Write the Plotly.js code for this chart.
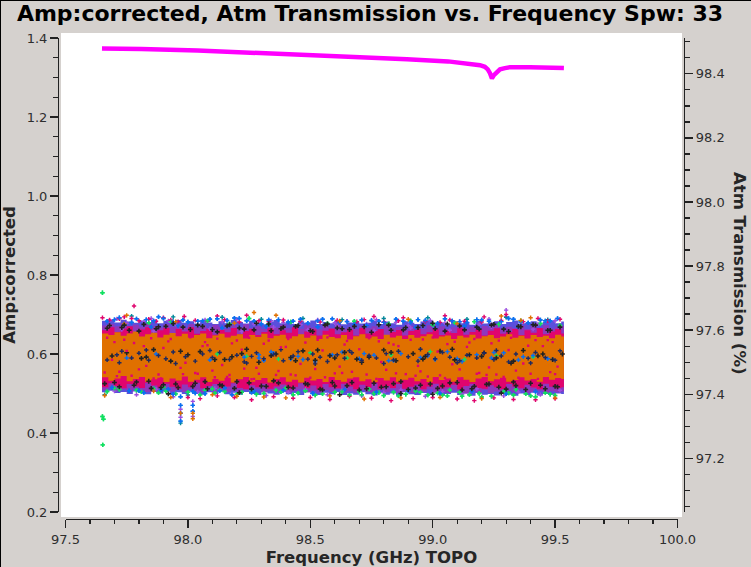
<!DOCTYPE html>
<html><head><meta charset="utf-8">
<script src="https://cdn.plot.ly/plotly-3.0.1.min.js"></script>
<style>html,body{margin:0;padding:0;background:#d5d1ce;overflow:hidden}</style>
</head><body><div id="chart" style="width:751px;height:567px"></div>
<script>
const titleText = "Amp:corrected, Atm Transmission vs. Frequency Spw: 33";
const xTitle = "Frequency (GHz) TOPO";
const yTitle = "Amp:corrected";
const y2Title = "Atm Transmission (%)";

// Atmospheric transmission curve
const atmFreq = [97.649,97.81,98.04,98.323,98.552,98.736,98.895,99.063,99.12,99.193,99.213,99.225,99.234,99.242,99.25,99.263,99.275,99.295,99.316,99.397,99.5,99.536];
const atmPct = [98.479,98.478,98.473,98.465,98.458,98.453,98.446,98.439,98.435,98.427,98.422,98.414,98.402,98.386,98.396,98.407,98.414,98.418,98.421,98.421,98.421,98.418];

// Envelopes of the dense amplitude cloud, sampled along frequency
const bandFreq = [97.649,97.675,97.7,97.725,97.75,97.775,97.8,97.825,97.85,97.875,97.9,97.925,97.95,97.975,98.0,98.025,98.05,98.075,98.1,98.125,98.15,98.175,98.2,98.225,98.25,98.275,98.3,98.325,98.35,98.375,98.4,98.425,98.45,98.475,98.5,98.525,98.55,98.575,98.6,98.625,98.65,98.675,98.7,98.725,98.75,98.775,98.8,98.825,98.85,98.875,98.9,98.925,98.95,98.975,99.0,99.025,99.05,99.075,99.1,99.125,99.15,99.175,99.2,99.225,99.25,99.275,99.3,99.325,99.35,99.375,99.4,99.425,99.45,99.475,99.5,99.525,99.536];
const fringeTop = [.684,.686,.680,.687,.682,.679,.685,.681,.687,.678,.684,.680,.686,.679,.683,.677,.685,.680,.676,.683,.678,.686,.681,.677,.684,.679,.675,.682,.686,.678,.681,.676,.683,.679,.685,.676,.681,.678,.684,.675,.680,.683,.677,.679,.685,.676,.682,.678,.674,.683,.679,.676,.682,.685,.677,.680,.675,.683,.678,.681,.674,.684,.677,.680,.683,.676,.681,.685,.677,.679,.683,.675,.681,.684,.678,.682,.680];
const purpleTop = [.672,.676,.670,.678,.668,.674,.669,.677,.671,.667,.675,.669,.673,.666,.676,.668,.672,.665,.674,.669,.664,.673,.668,.675,.666,.670,.663,.672,.667,.674,.665,.669,.664,.673,.667,.662,.671,.666,.674,.664,.668,.663,.672,.666,.670,.663,.673,.665,.669,.662,.671,.667,.664,.673,.666,.670,.663,.668,.672,.664,.669,.662,.671,.667,.674,.664,.669,.665,.672,.663,.670,.666,.673,.664,.669,.672,.670];
const pinkTop = [.660,.668,.656,.664,.670,.654,.662,.668,.652,.660,.666,.650,.663,.657,.668,.651,.658,.664,.649,.661,.655,.666,.650,.658,.663,.648,.656,.665,.650,.660,.654,.668,.649,.657,.662,.647,.659,.664,.650,.655,.661,.647,.666,.652,.658,.663,.648,.656,.661,.647,.658,.664,.650,.655,.662,.648,.660,.653,.665,.649,.656,.662,.647,.659,.665,.651,.656,.663,.648,.660,.654,.666,.650,.657,.663,.652,.658];
const orangeTop = [.652,.648,.655,.646,.652,.657,.644,.650,.654,.642,.649,.653,.645,.651,.641,.648,.652,.640,.647,.651,.642,.646,.650,.639,.648,.643,.651,.640,.646,.649,.639,.645,.650,.641,.647,.638,.649,.643,.640,.648,.637,.645,.650,.640,.644,.638,.649,.642,.646,.638,.648,.641,.645,.650,.639,.644,.647,.638,.646,.642,.649,.639,.645,.648,.640,.644,.650,.641,.646,.639,.648,.643,.646,.640,.649,.644,.646];
const orangeBot = [.536,.541,.532,.538,.544,.531,.537,.542,.530,.536,.540,.529,.538,.533,.543,.530,.535,.541,.529,.537,.532,.540,.528,.536,.542,.530,.534,.539,.528,.537,.541,.530,.535,.528,.540,.533,.537,.529,.542,.534,.530,.538,.541,.531,.536,.529,.539,.533,.541,.530,.535,.540,.531,.537,.529,.542,.534,.538,.530,.541,.535,.529,.538,.542,.531,.536,.540,.530,.534,.541,.533,.537,.530,.542,.535,.539,.537];
const pinkBot = [.522,.516,.526,.519,.513,.524,.518,.514,.527,.520,.515,.525,.517,.512,.523,.516,.527,.513,.519,.524,.512,.518,.526,.514,.511,.521,.516,.525,.512,.518,.523,.511,.517,.526,.513,.520,.511,.524,.516,.513,.525,.518,.511,.522,.515,.526,.512,.519,.514,.524,.512,.517,.523,.511,.518,.525,.513,.516,.522,.511,.519,.525,.514,.512,.521,.516,.511,.524,.518,.513,.522,.515,.511,.525,.517,.513,.516];
const purpleBot = [.512,.508,.514,.506,.510,.505,.512,.507,.504,.511,.506,.513,.505,.509,.504,.511,.506,.503,.510,.505,.512,.504,.508,.503,.510,.505,.512,.503,.507,.504,.510,.502,.506,.511,.503,.507,.502,.509,.504,.511,.503,.506,.502,.509,.504,.501,.508,.503,.510,.502,.505,.501,.508,.504,.510,.502,.506,.501,.508,.503,.500,.507,.503,.509,.501,.505,.500,.507,.503,.509,.501,.504,.507,.501,.506,.503,.505];
const fringeBot = [.506,.503,.507,.501,.504,.499,.505,.502,.498,.504,.500,.506,.498,.503,.499,.505,.500,.497,.503,.499,.505,.498,.502,.497,.504,.499,.496,.503,.500,.497,.504,.498,.501,.496,.503,.499,.496,.502,.498,.504,.496,.500,.497,.503,.498,.495,.502,.497,.500,.495,.503,.498,.496,.501,.497,.503,.495,.499,.502,.496,.500,.494,.501,.497,.499,.495,.502,.497,.494,.500,.496,.502,.495,.499,.497,.500,.499];

// Individually visible points, by colour
const greenX = [97.651,97.651,97.655,97.652,97.70,97.79,97.88,97.95,98.05,98.13,98.22,98.28,98.36,98.45,98.52,98.63,98.71,98.78,98.86,98.95,99.04,99.12,99.2,99.31,99.4,99.48,97.74,97.84,97.93,98.08,98.17,98.25,98.33,98.42,98.57,98.68,98.82,98.91,99.0,99.09,99.17,99.27,99.36,99.44,99.52,97.9,98.1,98.4,98.74,99.07,99.34,97.67,97.72,97.81,97.86,97.91,98.0,98.07,98.11,98.15,98.2,98.26,98.31,98.38,98.43,98.48,98.55,98.6,98.66,98.7,98.76,98.8,98.84,98.89,98.93,98.98,99.02,99.06,99.11,99.15,99.19,99.24,99.29,99.33,99.38,99.42,99.46,99.5,98.12,98.24,98.37,98.5,98.65,98.83,98.99,99.13,99.26,99.41];
const greenY = [.755,.442,.435,.370,.513,.508,.502,.499,.497,.509,.503,.498,.508,.501,.496,.505,.497,.502,.494,.503,.496,.493,.491,.501,.494,.498,.674,.679,.682,.684,.676,.690,.675,.681,.677,.683,.676,.684,.674,.679,.682,.675,.684,.677,.672,.516,.512,.514,.511,.509,.510,.505,.510,.504,.512,.506,.503,.508,.501,.505,.498,.506,.500,.504,.497,.507,.499,.503,.496,.505,.500,.495,.503,.498,.506,.496,.501,.494,.503,.497,.500,.493,.505,.496,.499,.492,.502,.495,.600,.594,.587,.603,.590,.598,.606,.586,.596,.592];
const blueX = [97.67,97.72,97.77,97.83,97.88,97.94,98.0,98.06,98.12,98.19,98.24,98.3,98.37,98.43,98.49,98.55,98.62,98.68,98.75,98.8,98.88,98.94,99.02,99.08,99.14,99.2,99.28,99.33,99.39,99.46,99.51,97.97,97.97,97.97,97.97,98.02,98.02,97.69,97.8,97.92,98.03,98.15,98.27,98.39,98.51,98.64,98.77,98.9,99.03,99.16,99.3,99.42,97.75,97.87,98.09,98.23,98.34,98.47,98.59,98.72,98.84,98.98,99.1,99.25,99.37,99.49,97.85,97.96,98.14,98.32,98.53,98.73,98.93,99.13,99.35,97.7,97.79,97.86,97.9,97.98,98.04,98.09,98.16,98.21,98.27,98.33,98.41,98.46,98.53,98.59,98.65,98.71,98.78,98.85,98.91,98.97,99.05,99.11,99.18,99.23,99.31,99.36,99.44,99.48,97.76,97.82,97.89,97.94,98.02,98.07,98.13,98.18,98.26,98.29,98.29,98.31,98.35,98.42,98.45,98.52,98.58,98.63,98.7,98.76,98.82,98.87,98.95,99.01,99.06,99.12,99.18,99.24,99.29,99.35,99.41,99.47];
const blueY = [.683,.692,.680,.687,.694,.682,.681,.684,.689,.691,.684,.676,.687,.683,.678,.688,.681,.675,.685,.680,.683,.687,.678,.684,.680,.686,.682,.688,.679,.684,.690,.492,.47,.45,.43,.47,.455,.515,.507,.511,.501,.514,.505,.508,.500,.510,.503,.507,.500,.506,.499,.505,.590,.600,.585,.592,.605,.586,.598,.601,.583,.595,.588,.604,.593,.586,.668,.672,.666,.670,.669,.673,.667,.671,.668,.687,.689,.684,.690,.686,.683,.688,.685,.690,.683,.686,.681,.688,.684,.689,.682,.686,.683,.688,.681,.685,.689,.682,.687,.683,.690,.681,.686,.684,.507,.502,.509,.498,.505,.500,.507,.497,.503,.598,.590,.583,.602,.587,.594,.580,.596,.605,.588,.597,.583,.601,.591,.586,.606,.581,.598,.590,.603,.585,.596,.588];
const blackX = [97.68,97.73,97.76,97.82,97.87,97.91,97.98,98.04,98.1,98.16,98.21,98.27,98.33,98.38,98.44,98.5,98.56,98.61,98.66,98.72,98.78,98.83,98.89,98.96,99.01,99.06,99.13,99.18,99.24,99.29,99.35,99.41,99.47,99.52,97.7,97.78,97.84,97.89,97.95,98.02,98.07,98.13,98.19,98.25,98.3,98.35,98.41,98.48,98.54,98.59,98.65,98.7,98.76,98.81,98.87,98.93,98.99,99.04,99.1,99.16,99.22,99.27,99.33,99.38,99.44,99.5,97.69,97.75,97.81,97.86,97.93,98.0,98.05,98.11,98.18,98.24,98.29,98.36,98.42,98.47,98.52,98.58,98.64,98.69,98.74,98.8,98.85,98.92,98.97,99.03,99.09,99.15,99.21,99.26,99.32,99.37,99.43,99.49,99.53,98.21,98.62,99.0,98.87,99.28,97.92,97.66,97.72,97.79,97.85,97.9,97.96,98.03,98.08,98.14,98.2,98.26,98.32,98.37,98.43,98.49,98.55,98.6,98.67,98.73,98.79,98.84,98.9,98.95,99.02,99.07,99.12,99.17,99.23,99.3,99.34,99.4,99.46,99.51,97.67,97.74,97.8,97.88,97.94,98.01,98.06,98.12,98.17,98.23,98.28,98.34,98.39,98.45,98.51,98.57,98.63,98.68,98.75,98.82,98.88,98.94,99.0,99.05,99.11,99.19,99.25,99.31,99.36,99.42,99.48,97.83,97.97,98.15,98.22,98.34,98.44,98.53,98.6,98.71,98.83,98.96,99.08,99.2,99.33,99.45];
const blackY = [.672,.667,.660,.675,.664,.670,.668,.673,.662,.671,.666,.661,.676,.664,.670,.659,.673,.666,.662,.669,.674,.660,.667,.672,.664,.676,.661,.668,.673,.663,.670,.674,.660,.668,.528,.521,.531,.515,.524,.518,.530,.522,.513,.527,.519,.532,.516,.525,.511,.528,.520,.509,.526,.517,.530,.514,.524,.519,.528,.512,.523,.516,.529,.510,.521,.518,.595,.603,.589,.611,.582,.598,.606,.586,.593,.612,.579,.600,.591,.608,.584,.596,.604,.587,.592,.610,.583,.601,.594,.607,.585,.598,.603,.590,.577,.609,.595,.586,.600,.502,.497,.498,.500,.501,.499,.525,.517,.529,.513,.522,.515,.526,.512,.520,.530,.511,.518,.527,.514,.523,.509,.519,.528,.512,.516,.525,.510,.521,.513,.527,.509,.518,.524,.511,.520,.526,.512,.517,.665,.673,.658,.669,.677,.662,.670,.656,.674,.663,.678,.659,.668,.672,.657,.676,.664,.670,.655,.673,.661,.667,.678,.658,.671,.663,.675,.657,.669,.673,.660,.592,.607,.586,.601,.596,.583,.610,.590,.579,.604,.587,.612,.594,.582,.600];
const centerDarkX = [97.67,97.71,97.73,97.77,97.8,97.84,97.88,97.91,97.94,97.99,98.03,98.06,98.1,98.13,98.17,98.2,98.23,98.26,98.28,98.31,98.35,98.39,98.43,98.45,98.49,98.51,98.54,98.57,98.61,98.64,98.67,98.71,98.74,98.77,98.81,98.84,98.86,98.9,98.94,98.98,99.01,99.04,99.07,99.11,99.14,99.18,99.21,99.25,99.28,99.31,99.34,99.39,99.42,99.46,99.5,97.72,97.83,97.95,98.09,98.24,98.38,98.52,98.66,98.8,98.95,99.1,99.26,99.4,99.52];
const centerDarkY = [.585,.598,.607,.590,.602,.584,.596,.588,.605,.593,.582,.600,.591,.604,.586,.597,.580,.594,.603,.588,.599,.583,.595,.606,.587,.600,.592,.581,.598,.589,.603,.584,.596,.590,.601,.585,.607,.593,.582,.599,.588,.604,.592,.583,.597,.590,.602,.586,.595,.580,.600,.589,.604,.591,.584,.578,.610,.576,.609,.577,.611,.575,.608,.576,.612,.578,.609,.577,.608];
const pinkX = [97.651,97.78,97.74,97.77,97.84,97.9,97.985,98.0,98.05,98.12,98.19,98.26,98.35,98.43,98.5,98.58,98.66,98.75,98.83,98.92,99.0,99.1,99.17,99.25,99.33,99.42,99.5,98.76,98.88,99.05,99.21,99.3,99.43,98.12,98.24,97.68,97.72,97.8,97.87,97.93,97.96,98.03,98.08,98.15,98.21,98.29,98.33,98.39,98.46,98.54,98.61,98.69,98.72,98.8,98.86,98.97,99.03,99.07,99.13,99.2,99.28,99.37,99.47,99.52];
const pinkY = [.692,.7215,.694,.69,.688,.692,.695,.49,.487,.494,.49,.484,.492,.488,.49,.485,.493,.488,.482,.487,.49,.486,.482,.489,.485,.484,.487,.695,.692,.697,.694,.7,.69,.696,.698,.686,.689,.684,.683,.686,.682,.685,.683,.687,.681,.684,.682,.686,.683,.681,.685,.682,.687,.681,.684,.682,.680,.686,.683,.681,.685,.682,.684,.688];
const pinkDotX = [97.7,97.82,97.93,98.08,98.2,98.31,98.4,98.53,98.64,98.78,98.86,98.96,99.06,99.15,99.27,99.39,99.47,97.72,97.8,97.88,97.97,98.03,98.1,98.17,98.23,98.29,98.37,98.44,98.52,98.6,98.67,98.73,98.81,98.89,98.95,99.03,99.11,99.19,99.26,99.34,99.4,99.48,97.69,97.75,97.83,97.9,97.99,98.06,98.14,98.22,98.28,98.38,98.46,98.55,98.62,98.7,98.79,98.84,98.94,99.02,99.08,99.14,99.23,99.31,99.37,99.45,99.51,97.67,97.74,97.78,97.85,97.92,98.01,98.07,98.12,98.18,98.25,98.33,98.41,98.48,98.57,98.65,98.74,98.82,98.91,99.0,99.09,99.17,99.24,99.32,99.42,99.49,97.71,97.86,97.98,98.11,98.26,98.36,98.5,98.63,98.77,98.93,99.05,99.18,99.29,99.43,97.66,97.77,97.89,98.04,98.16,98.27,98.42,98.56,98.68,98.85,98.98,99.12,99.22,99.35,99.5];
const pinkDotY = [.63,.62,.638,.622,.634,.626,.618,.636,.624,.632,.62,.637,.625,.629,.634,.621,.635,.555,.561,.548,.565,.552,.558,.547,.563,.55,.557,.546,.562,.551,.555,.548,.56,.549,.556,.546,.561,.552,.548,.558,.55,.554,.585,.608,.57,.615,.578,.62,.572,.611,.565,.617,.575,.609,.568,.612,.58,.624,.57,.606,.574,.618,.566,.61,.576,.62,.568,.641,.636,.628,.640,.632,.642,.630,.639,.627,.641,.634,.638,.629,.642,.633,.640,.628,.636,.642,.631,.638,.627,.641,.635,.63,.544,.538,.549,.541,.536,.547,.540,.552,.537,.545,.539,.550,.542,.537,.553,.545,.538,.550,.542,.537,.548,.541,.536,.551,.543,.538,.547,.540,.549];
const purpleX = [97.68,97.71,97.75,97.82,97.85,97.92,97.95,97.97,97.97,98.02,98.02,98.07,98.14,98.2,98.27,98.34,98.39,98.46,98.53,98.6,98.65,98.73,98.77,98.85,98.9,98.99,99.05,99.11,99.19,99.23,99.3,99.3,99.36,99.43,99.5,97.7,97.79,97.87,97.94,98.04,98.11,98.18,98.26,98.32,98.41,98.48,98.57,98.63,98.71,98.8,98.87,98.97,99.04,99.12,99.18,99.29,99.35,99.44,99.52,97.76,97.89,98.01,98.15,98.28,98.42,98.56,98.69,98.82,98.95,99.08,99.22,99.38,99.49,97.73,97.86,97.98,98.09,98.22,98.35,98.49,98.61,98.76,98.91,99.07,99.24,99.41];
const purpleY = [.685,.689,.678,.682,.690,.684,.675,.46,.44,.48,.442,.686,.682,.688,.676,.684,.680,.674,.686,.679,.683,.676,.687,.680,.672,.685,.678,.682,.675,.688,.711,.694,.681,.676,.684,.506,.497,.511,.492,.504,.513,.498,.508,.495,.503,.511,.497,.507,.494,.502,.509,.493,.505,.498,.512,.494,.504,.497,.508,.598,.584,.607,.592,.603,.587,.595,.580,.605,.590,.598,.583,.602,.593,.662,.658,.670,.664,.657,.668,.661,.672,.659,.666,.660,.669,.663];
const tealX = [97.66,97.77,97.94,97.97,98.0,98.14,98.3,98.47,98.63,98.8,98.98,99.14,99.3,99.47,97.8,97.9,98.09,98.26,98.44,98.6,98.79,98.97,99.16,99.34,99.5];
const tealY = [.497,.696,.694,.425,.496,.693,.688,.69,.687,.69,.692,.688,.693,.687,.598,.586,.602,.592,.595,.604,.585,.597,.589,.600,.592];
const orangeX = [97.66,97.75,97.93,97.97,98.02,98.02,98.1,98.2,98.31,98.4,98.58,98.72,98.87,99.03,99.2,99.28,99.4,99.5,97.74,97.95,98.19,98.36,98.62,98.9,99.1,99.36,98.27,97.86];
const orangeY = [.495,.698,.49,.45,.45,.436,.497,.493,.491,.489,.494,.486,.489,.49,.487,.696,.692,.489,.676,.682,.678,.698,.684,.688,.677,.685,.705,.506];

const band = (top, bot, color) => ({
  x: bandFreq.concat(bandFreq.slice().reverse()),
  y: top.concat(bot.slice().reverse()),
  type: 'scatter', mode: 'lines', fill: 'toself', fillcolor: color,
  line: {width: 0, color: color, shape: 'hv'}, hoverinfo: 'skip', showlegend: false
});
const pts = (x, y, color, size, symbol) => ({
  x: x, y: y, type: 'scatter', mode: 'markers', showlegend: false,
  marker: {symbol: symbol || 'cross', size: size || 3.6, color: color, line: {width: 0}}
});

const traces = [
  band(fringeTop, fringeBot, '#5a4fdc'),
  band(purpleTop, purpleBot, '#8e38bc'),
  pts(greenX, greenY, '#10e060'),
  band(pinkTop, pinkBot, '#e0056e'),
  pts(blueX, blueY, '#0a6ff0'),
  pts(purpleX, purpleY, '#9c4fe0'),
  pts(tealX, tealY, '#00889a'),
  pts(pinkX, pinkY, '#e0056e'),
  band(orangeTop, orangeBot, '#e07000'),
  pts(greenX, greenY, '#10e060'),
  pts(blueX, blueY, '#0a6ff0'),
  pts(orangeX, orangeY, '#e07000'),
  pts(blackX, blackY, '#222222', 4),
  pts(centerDarkX, centerDarkY, '#1f2a60', 3.6),
  pts(pinkDotX, pinkDotY, '#e0056e', 2.4, 'square'),
  {x: atmFreq, y: atmPct, yaxis: 'y2', type: 'scatter', mode: 'lines', showlegend: false,
   line: {color: '#ff00ff', width: 4.5}}
];

const W = 626, H = 483;   // plot box between the detached axis lines
const tick = {family: 'DejaVu Sans', size: 13, color: '#2e2e2e'};
const ttl = {family: 'DejaVu Sans', size: 16.5, color: '#262626', weight: 'bold'};
const layout = {
  width: 751, height: 567,
  paper_bgcolor: '#d5d1ce', plot_bgcolor: 'rgba(0,0,0,0)',
  margin: {l: 58, r: 67, t: 36, b: 48, pad: 0},
  title: {text: titleText, font: {family: 'DejaVu Sans', size: 22, color: '#000', weight: 'bold'},
          x: 370/751, xanchor: 'center', y: 1-13/567, yanchor: 'middle'},
  xaxis: {domain: [7.5/W, 619.5/W], range: [97.5, 100], anchor: 'free', position: 0,
    dtick: 0.5, tick0: 97.5, tickformat: '.1f', ticks: 'outside', ticklen: 8, tickwidth: 1.2, tickcolor: '#222',
    showline: true, linecolor: '#222', linewidth: 1.2, showgrid: false, zeroline: false,
    minor: {dtick: 0.1, tick0: 97.5, ticks: 'outside', ticklen: 4, tickwidth: 1.2, tickcolor: '#222', showgrid: false},
    tickfont: tick, title: {text: xTitle, font: ttl, standoff: 9}},
  yaxis: {domain: [7/H, 481/H], range: [0.2, 1.4], anchor: 'free', position: 0, side: 'left',
    dtick: 0.2, tick0: 0.2, tickformat: '.1f', ticks: 'outside', ticklen: 8, tickwidth: 1.2, tickcolor: '#222',
    showline: true, linecolor: '#222', linewidth: 1.2, showgrid: false, zeroline: false,
    minor: {dtick: 0.05, tick0: 0.2, ticks: 'outside', ticklen: 5, tickwidth: 1.2, tickcolor: '#222', showgrid: false},
    tickfont: tick, title: {text: yTitle, font: ttl, standoff: 6}},
  yaxis2: {domain: [7/H, 1], range: [97.032, 98.512], overlaying: 'y', anchor: 'free', position: 1, side: 'right',
    dtick: 0.2, tick0: 97.2, tickformat: '.1f', ticks: 'outside', ticklen: 8, tickwidth: 1.2, tickcolor: '#222',
    showline: true, linecolor: '#222', linewidth: 1.2, showgrid: false, zeroline: false,
    minor: {dtick: 0.05, tick0: 97.2, ticks: 'outside', ticklen: 5, tickwidth: 1.2, tickcolor: '#222', showgrid: false},
    tickfont: tick},
  annotations: [{text: y2Title, font: ttl, xref: 'paper', yref: 'paper', x: (740-58)/W, y: (519-273)/H,
    textangle: 90, showarrow: false, xanchor: 'center', yanchor: 'middle'}],
  shapes: [
    {type: 'rect', layer: 'below', xref: 'paper', yref: 'paper', x0: 3/W, x1: 624/W, y0: 2/H, y1: 486/H,
     fillcolor: '#ffffff', line: {width: 0}},
    {type: 'line', xref: 'paper', yref: 'paper', x0: -58/W, x1: -58/W, y0: -48/H, y1: 519/H, line: {color: '#000', width: 2}},
    {type: 'line', xref: 'paper', yref: 'paper', x0: -58/W, x1: 693/W, y0: 519/H, y1: 519/H, line: {color: '#000', width: 2}}
  ]
};
Plotly.newPlot('chart', traces, layout, {displayModeBar: false, staticPlot: true});
</script></body></html>
